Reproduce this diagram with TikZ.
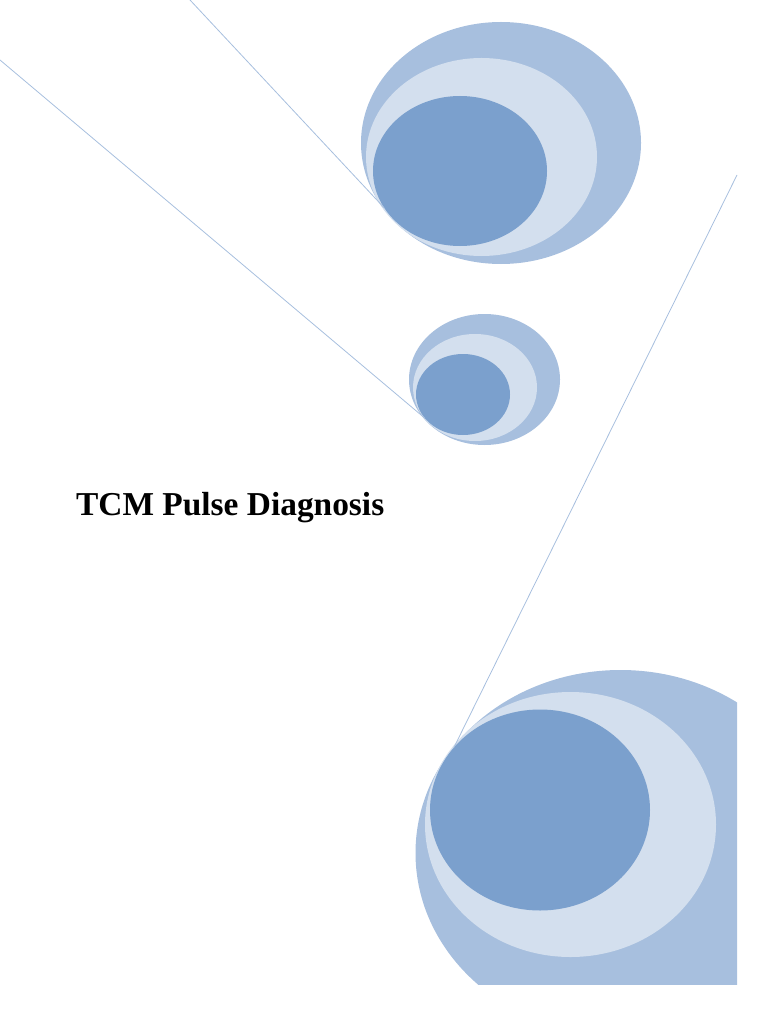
\documentclass[tikz,border=0pt]{standalone}
\usepackage{fontspec}
\setmainfont{Liberation Serif}
\usetikzlibrary{shapes.geometric}
\definecolor{outerblue}{HTML}{A7BFDE}
\definecolor{midblue}{HTML}{D3DFEE}
\definecolor{innerblue}{HTML}{7BA0CD}
\begin{document}
\begin{tikzpicture}[x=1pt, y=-1pt, main/.style = {ellipse, inner sep=0pt, outer sep=0pt}, ray/.style = {draw=outerblue, line width=0.8pt}]
\useasboundingbox (0,0) rectangle (768,1024);
\node[main, fill=outerblue, minimum width=280pt, minimum height=242pt] (1) at (501,143) {};
\node[main, fill=midblue, minimum width=231pt, minimum height=198pt] (2) at (481.5,157) {};
\node[main, fill=innerblue, minimum width=174pt, minimum height=150pt] (3) at (460,171) {};
\node[main, fill=outerblue, minimum width=151pt, minimum height=131pt] (4) at (484.5,379.5) {};
\node[main, fill=midblue, minimum width=124pt, minimum height=107pt] (5) at (475,387.5) {};
\node[main, fill=innerblue, minimum width=94pt, minimum height=81pt] (6) at (463,394.5) {};
\begin{scope}
\clip (0,0) rectangle (737,984.5);
\node[main, fill=outerblue, minimum width=410pt, minimum height=366pt] (7) at (620.5,853) {};
\node[main, fill=midblue, minimum width=291pt, minimum height=265pt] (8) at (570.5,824.5) {};
\end{scope}
\node[main, fill=innerblue, minimum width=220pt, minimum height=201pt] (9) at (540,810) {};
\coordinate (a) at (190,0);
\coordinate (b) at (0,60);
\coordinate (c) at (737,175);
\draw[ray] (a) -- (3.206);
\draw[ray] (b) -- (6.212);
\draw[ray] (c) -- (9.144);
\node[anchor=base west, inner sep=0pt, font=\fontsize{33.4}{40}\selectfont\bfseries] (10) at (76,515) {TCM Pulse Diagnosis};
\end{tikzpicture}
\end{document}
